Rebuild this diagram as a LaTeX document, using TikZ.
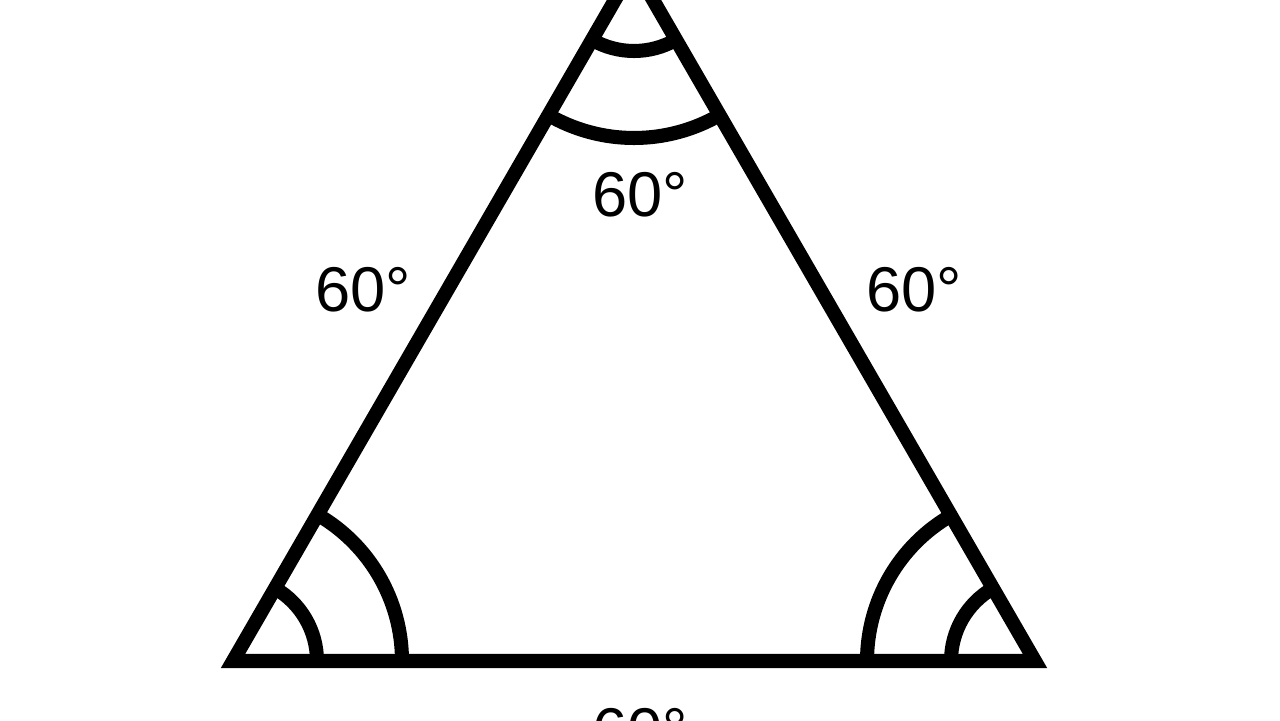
\documentclass[tikz,border=0pt]{standalone}
\usepackage{fontspec}
\setmainfont{Liberation Sans}
\usetikzlibrary{calc}
\usetikzlibrary{positioning}

\begin{document}
\begin{tikzpicture}
    [x=0.02cm,y=0.02cm,
    side/.style={line width=8pt,line join=miter},
    mark arc/.style={line width=8pt},
    angle label/.style={anchor=base,inner sep=0pt,font=\fontsize{36}{40}\selectfont}]
    \useasboundingbox (0,0) rectangle (1280,720);
    % corners of the triangle
    \coordinate (A) at (233,59);
    \coordinate (B) at (1035,59);
    \coordinate (C) at (634,753);
    \draw[side] (A) -- (B) -- (C) -- cycle;
    % angle marks
    \draw[mark arc] ([shift={(0:84)}]A) arc[start angle=0,end angle=60,radius=84];
    \draw[mark arc] ([shift={(0:169)}]A) arc[start angle=0,end angle=60,radius=169];
    \draw[mark arc] ([shift={(180:84)}]B) arc[start angle=180,end angle=120,radius=84];
    \draw[mark arc] ([shift={(180:168)}]B) arc[start angle=180,end angle=120,radius=168];
    \draw[mark arc] ([shift={(240:84)}]C) arc[start angle=240,end angle=300,radius=84];
    \draw[mark arc] ([shift={(240:171)}]C) arc[start angle=240,end angle=300,radius=171];
    % labels
    \node[angle label] (top) at (640,503) {60°};
    \node[angle label] (left) at (363,408) {60°};
    \node[angle label] (right) at (914,408) {60°};
    \node[angle label] (bottom) at (640,-32) {60°};
\end{tikzpicture}
\end{document}
